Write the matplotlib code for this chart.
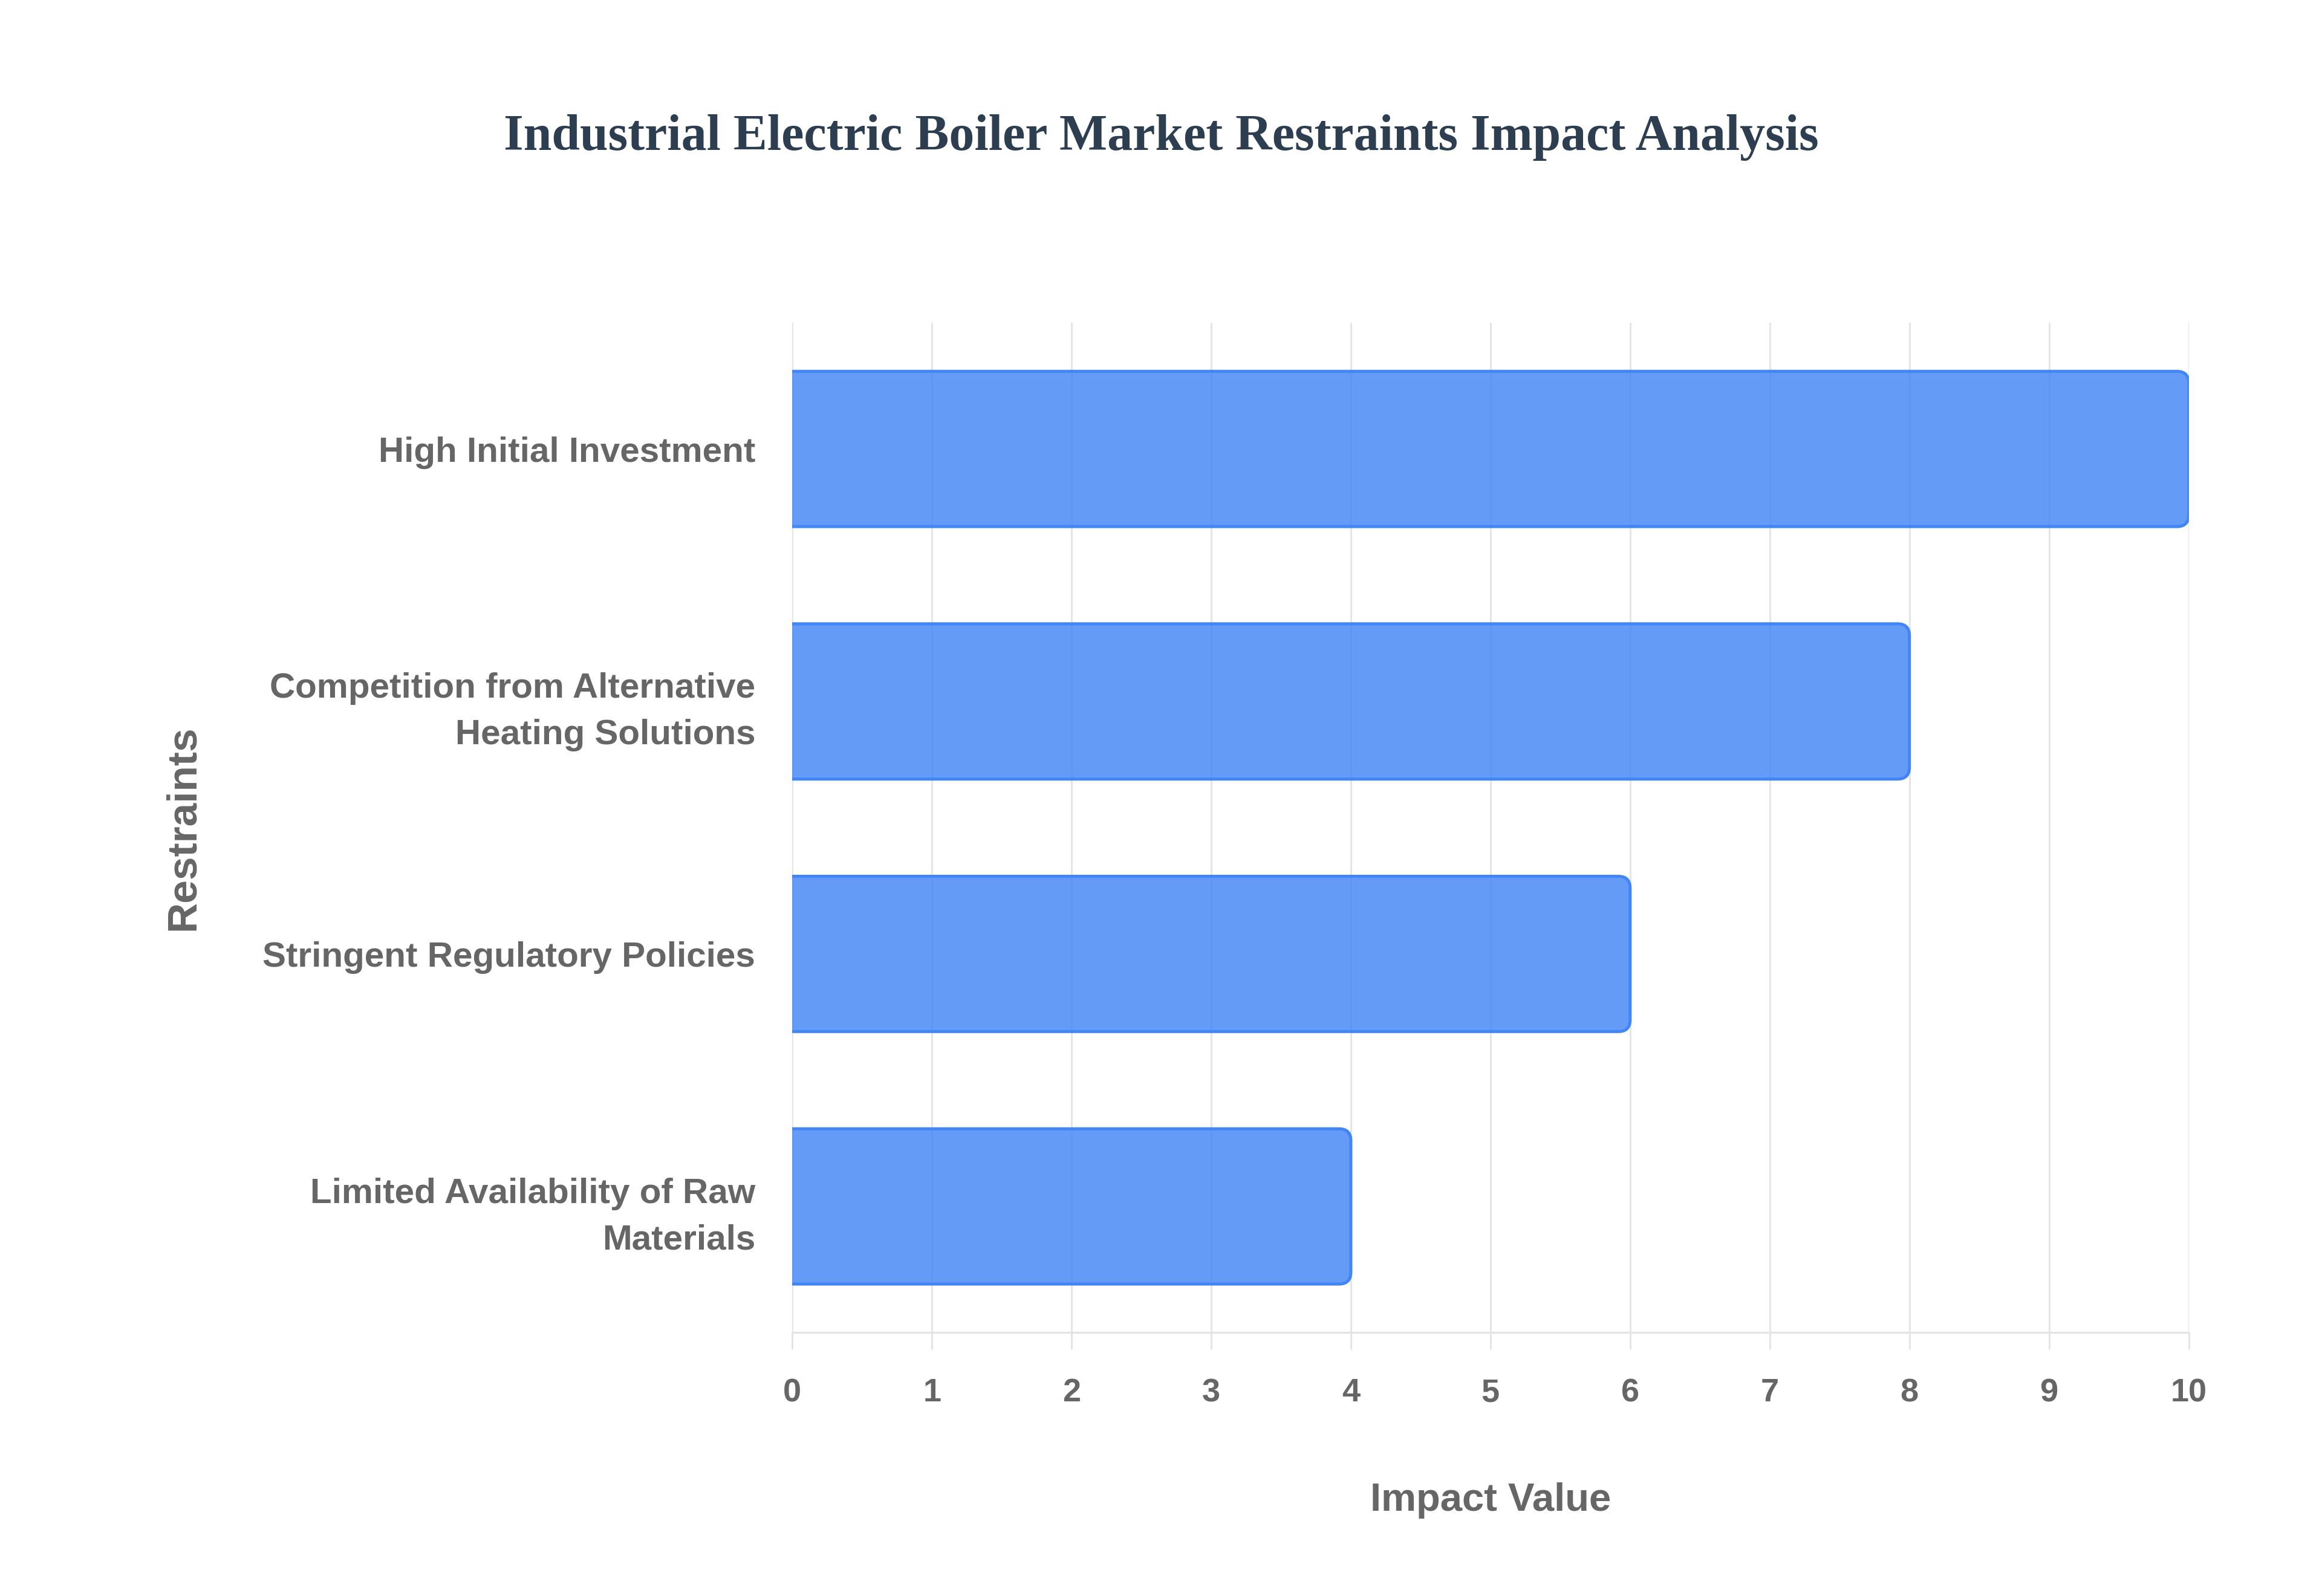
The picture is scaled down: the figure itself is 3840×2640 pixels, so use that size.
import matplotlib.pyplot as plt
from matplotlib.patches import FancyBboxPatch

# chart data
restraints = [
    "High Initial Investment",
    "Competition from Alternative\nHeating Solutions",
    "Stringent Regulatory Policies",
    "Limited Availability of Raw\nMaterials",
]
impact = [10, 8, 6, 4]
x_ticks = list(range(0, 11))

title = "Industrial Electric Boiler Market Restraints Impact Analysis"
xlabel = "Impact Value"
ylabel = "Restraints"

fig = plt.figure(figsize=(19.2, 13.2), dpi=200)
ax = fig.add_axes([0.3412, 0.165, 0.6014, 0.6328])

grid_col = "#e4e4e4"
text_col = "#666666"
blue = "#4285f4"

y_pos = list(range(len(restraints)))
bars = ax.barh(y_pos, impact, height=0.615, color="none")

# swap plain bars for ones with rounded right corners
r = 0.085
for b in bars:
    x, y, w, h = b.get_x(), b.get_y(), b.get_width(), b.get_height()
    b.remove()
    p = FancyBboxPatch((x - r, y), w + r, h,
                       boxstyle=f"round,pad=0,rounding_size={r}",
                       mutation_aspect=0.553,
                       facecolor=(66 / 255, 133 / 255, 244 / 255, 0.82),
                       edgecolor=blue, linewidth=1.8, zorder=3)
    ax.add_patch(p)

ax.set_xlim(0, 10)
ax.set_ylim(3.5, -0.5)
ax.set_xticks(x_ticks)
ax.set_yticks(y_pos)
ax.set_yticklabels(restraints)

ax.grid(axis="x", color=grid_col, linewidth=1.0, zorder=0)
ax.set_axisbelow(True)
for s in ["top", "right", "left"]:
    ax.spines[s].set_visible(False)
ax.spines["bottom"].set_color(grid_col)
ax.spines["bottom"].set_linewidth(1.2)

ax.tick_params(axis="x", length=10, width=1.0, color=grid_col, pad=17,
               labelsize=19.5, labelcolor=text_col)
ax.tick_params(axis="y", length=0, pad=22, labelsize=21, labelcolor=text_col)
for lab in ax.get_xticklabels() + ax.get_yticklabels():
    lab.set_fontfamily("Liberation Sans")
    lab.set_fontweight("bold")
for lab in ax.get_yticklabels():
    lab.set_horizontalalignment("right")
    lab.set_multialignment("right")
    lab.set_linespacing(1.55)

ax.set_xlabel(xlabel, fontsize=23.5, fontweight="bold", color=text_col,
              family="Liberation Sans", va="center")
ax.xaxis.set_label_coords(0.5, -0.166)
ax.set_ylabel(ylabel, fontsize=25, fontweight="bold", color=text_col,
              family="Liberation Sans", va="center")
ax.yaxis.set_label_coords(-0.436, 0.5)

fig.text(0.5, 0.9137, title, ha="center", va="center", fontsize=30.2,
         fontweight="bold", family="Liberation Serif", color="#2c3e50")

fig.savefig("out.png", dpi=200, facecolor="white")
